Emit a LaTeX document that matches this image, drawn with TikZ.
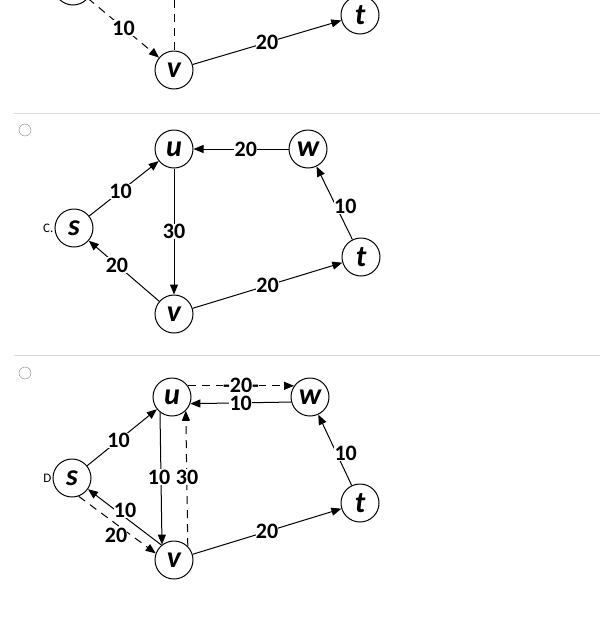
\documentclass[tikz,border=0pt]{standalone}
\usepackage{fontspec}
\setmainfont{Carlito}
\usetikzlibrary{arrows.meta}
\begin{document}
\begin{tikzpicture}[x=1pt,y=-1pt,
 vert/.style={circle,draw,line width=1pt,minimum size=38pt,inner sep=0pt,font=\fontsize{30}{30}\selectfont\bfseries\itshape},
 edge/.style={line width=1pt,-{Triangle[length=10pt,width=8pt]}},
 lbl/.style={fill=white,inner sep=0.3pt,font=\fontsize{22}{22}\selectfont\bfseries},
 radio/.style={circle,draw=gray,minimum size=12pt,inner sep=0pt},
 dsh/.style={dash pattern=on 8pt off 6pt},
 sep/.style={draw=black!15,line width=0.8pt}]
\useasboundingbox (0,0) rectangle (600,619);
% section B (partial)
\begin{scope}
\clip (0,0) rectangle (600,619);
\node[vert] (bs) at (73,-14) {};
\end{scope}
\node[vert] (bv) at (174,70) {v};
\node[vert] (bt) at (360,15) {t};
\coordinate (btop) at (174,0);
\draw[edge,dsh] (bs) -- node[lbl,pos=0.5]{10} (bv);
\draw[line width=1pt,dsh] (btop) -- (bv);
\draw[edge] (bv) -- node[lbl]{20} (bt);
\coordinate (s1a) at (14,113); \coordinate (s1b) at (600,113);
\draw[sep] (s1a) -- (s1b);
% section C
\node[radio] (rc) at (25,130) {};
\node[vert] (cu) at (174,149) {u};
\node[vert] (cw) at (308,149) {w};
\node[vert] (cs) at (74,228) {s};
\node[vert] (ct) at (361,257) {t};
\node[vert] (cv) at (174,314) {v};
\node[font=\fontsize{13}{13}\selectfont,left,inner sep=1pt] (cl) at (cs.west) {C.};
\draw[edge] (cs) -- node[lbl,pos=0.45]{10} (cu);
\draw[edge] (cw) -- node[lbl,pos=0.45]{20} (cu);
\draw[edge] (cu) -- node[lbl]{30} (cv);
\draw[edge] (cv) -- node[lbl,pos=0.6]{20} (cs);
\draw[edge] (ct) -- node[lbl,pos=0.45,xshift=9pt]{10} (cw);
\draw[edge] (cv) -- node[lbl]{20} (ct);
\coordinate (s2a) at (14,355); \coordinate (s2b) at (600,355);
\draw[sep] (s2a) -- (s2b);
% section D
\node[radio] (rd) at (25,373) {};
\node[vert] (du) at (172,397) {u};
\node[vert] (dw) at (310,397) {w};
\node[vert] (ds) at (72,478) {s};
\node[vert] (dt) at (360,503) {t};
\node[vert] (dv) at (174,560) {v};
\node[font=\fontsize{13}{13}\selectfont,left,inner sep=1pt] (dl) at (ds.west) {D};
\draw[edge,dsh] (du.35) -- node[lbl]{-20-} (dw.145);
\draw[edge] (dw.195) -- node[lbl]{10} (du.-20);
\draw[edge] (ds) -- node[lbl,pos=0.45]{10} (du);
\draw[edge] (du.-128) -- (dv.128);
\draw[edge,dsh] (dv.45) -- (du.-45);
\node[lbl] (l10) at (159,477) {10};
\node[lbl] (l30) at (187,477) {30};
\draw[edge] (dv.130) -- (ds.-35);
\draw[edge,dsh] (ds.-70) -- (dv.160);
\node[lbl] (l10b) at (125,510) {10};
\node[lbl] (l20b) at (116,535) {20};
\draw[edge] (dt) -- node[lbl,pos=0.45,xshift=9pt]{10} (dw);
\draw[edge] (dv) -- node[lbl]{20} (dt);
\end{tikzpicture}
\end{document}
